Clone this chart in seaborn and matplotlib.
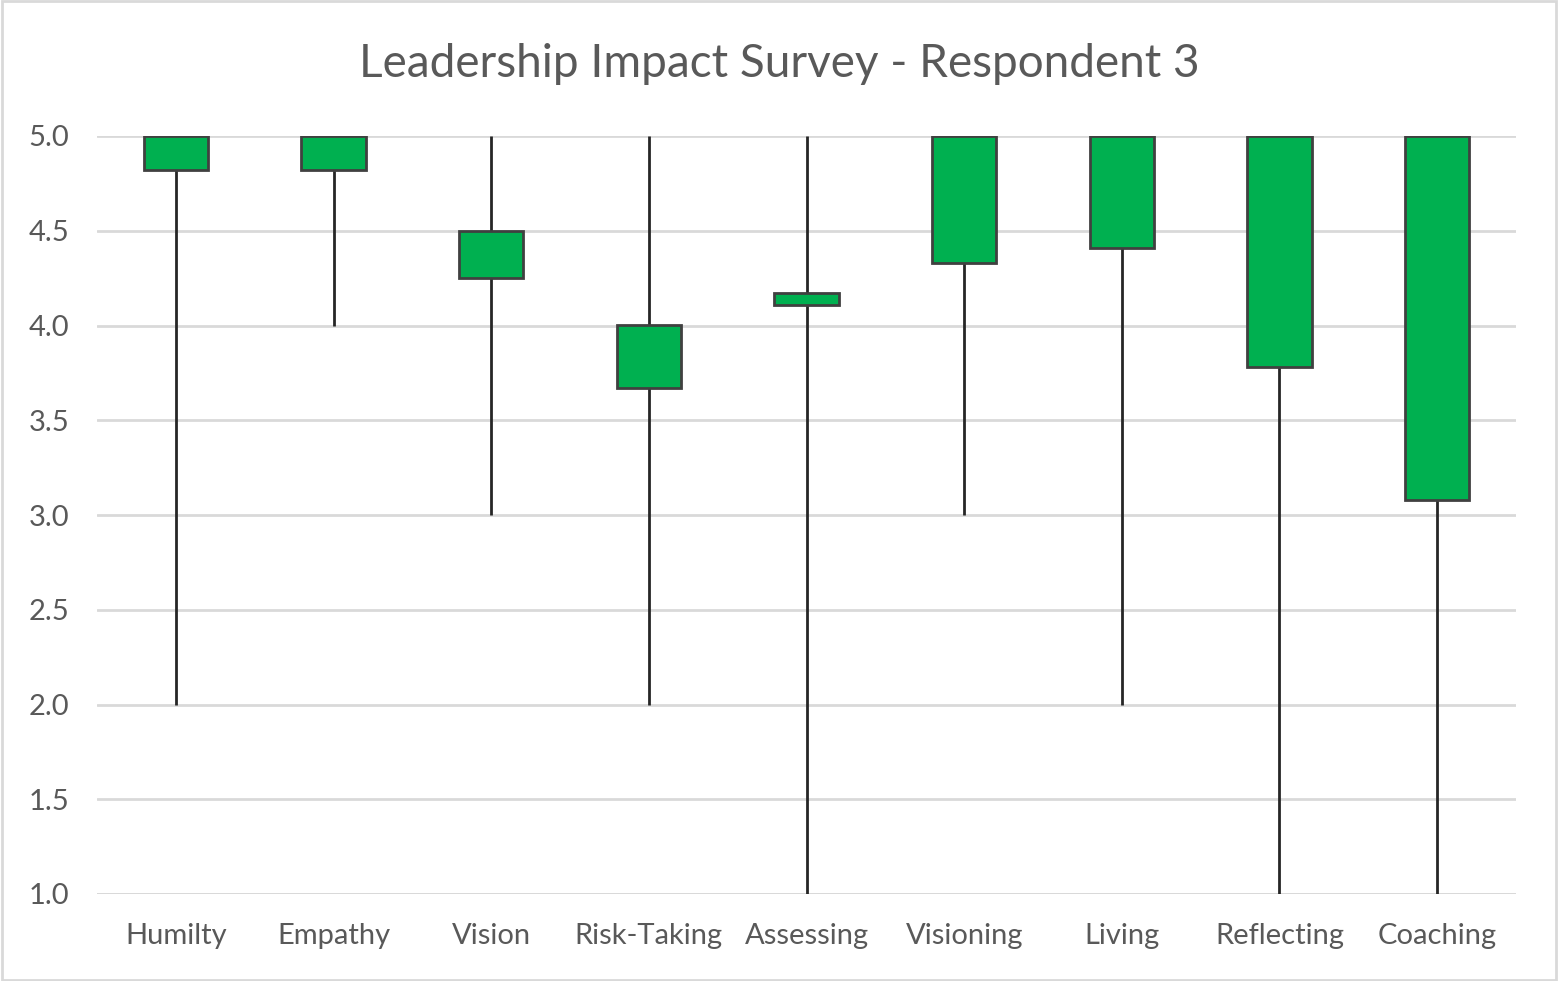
import numpy as np
import pandas as pd
import seaborn as sns
import matplotlib.pyplot as plt
from matplotlib.patches import Rectangle

categories = ['Humilty', 'Empathy', 'Vision', 'Risk-Taking', 'Assessing',
              'Visioning', 'Living', 'Reflecting', 'Coaching']
high = [5.0, 5.0, 5.0, 5.0, 5.0, 5.0, 5.0, 5.0, 5.0]
low = [2.0, 4.0, 3.0, 2.0, 1.0, 3.0, 2.0, 1.0, 1.0]
box_top = [5.0, 5.0, 4.5, 4.0, 4.17, 5.0, 5.0, 5.0, 5.0]
box_bottom = [4.82, 4.82, 4.25, 3.67, 4.11, 4.33, 4.41, 3.78, 3.08]

df = pd.DataFrame({'cat': categories, 'high': high, 'low': low,
                   'top': box_top, 'bottom': box_bottom})

sns.set_theme(style='whitegrid')
plt.rcParams['font.family'] = ['Lato', 'DejaVu Sans']

fig = plt.figure(figsize=(15.58, 9.81), dpi=100)
ax = fig.add_axes([97 / 1558, 1 - 894 / 981, (1516 - 97) / 1558, (894 - 136) / 981])

x = np.arange(len(df))
ax.vlines(x, df['low'], df['high'], color='#262626', lw=2, zorder=2)
ax.bar(x, df['top'] - df['bottom'], bottom=df['bottom'], width=0.41,
       color='#00b050', edgecolor='#404040', linewidth=2, zorder=3)

ax.set_xlim(-0.5, len(df) - 0.5)
ax.set_ylim(1, 5)
ax.set_yticks(np.arange(1, 5.01, 0.5))
ax.set_yticklabels([f'{v:.1f}' for v in np.arange(1, 5.01, 0.5)])
ax.set_xticks(x)
ax.set_xticklabels(df['cat'])
ax.grid(axis='x', visible=False)
ax.grid(axis='y', color='#d9d9d9', lw=2)
ax.axhline(1, color='#d9d9d9', lw=2, zorder=1)
ax.tick_params(axis='both', length=0, labelsize=21, labelcolor='#595959')
ax.tick_params(axis='x', pad=21)
ax.tick_params(axis='y', pad=20)
for s in ax.spines.values():
    s.set_visible(False)
ax.set_axisbelow(True)

fig.text(0.5, 1 - 64 / 981, 'Leadership Impact Survey - Respondent 3',
         ha='center', va='center', fontsize=33, color='#595959')
fig.patches.append(Rectangle((0.001, 0.001), 0.998, 0.998, transform=fig.transFigure,
                             fill=False, edgecolor='#d9d9d9', lw=2))

fig.savefig('out.png', dpi=100)
